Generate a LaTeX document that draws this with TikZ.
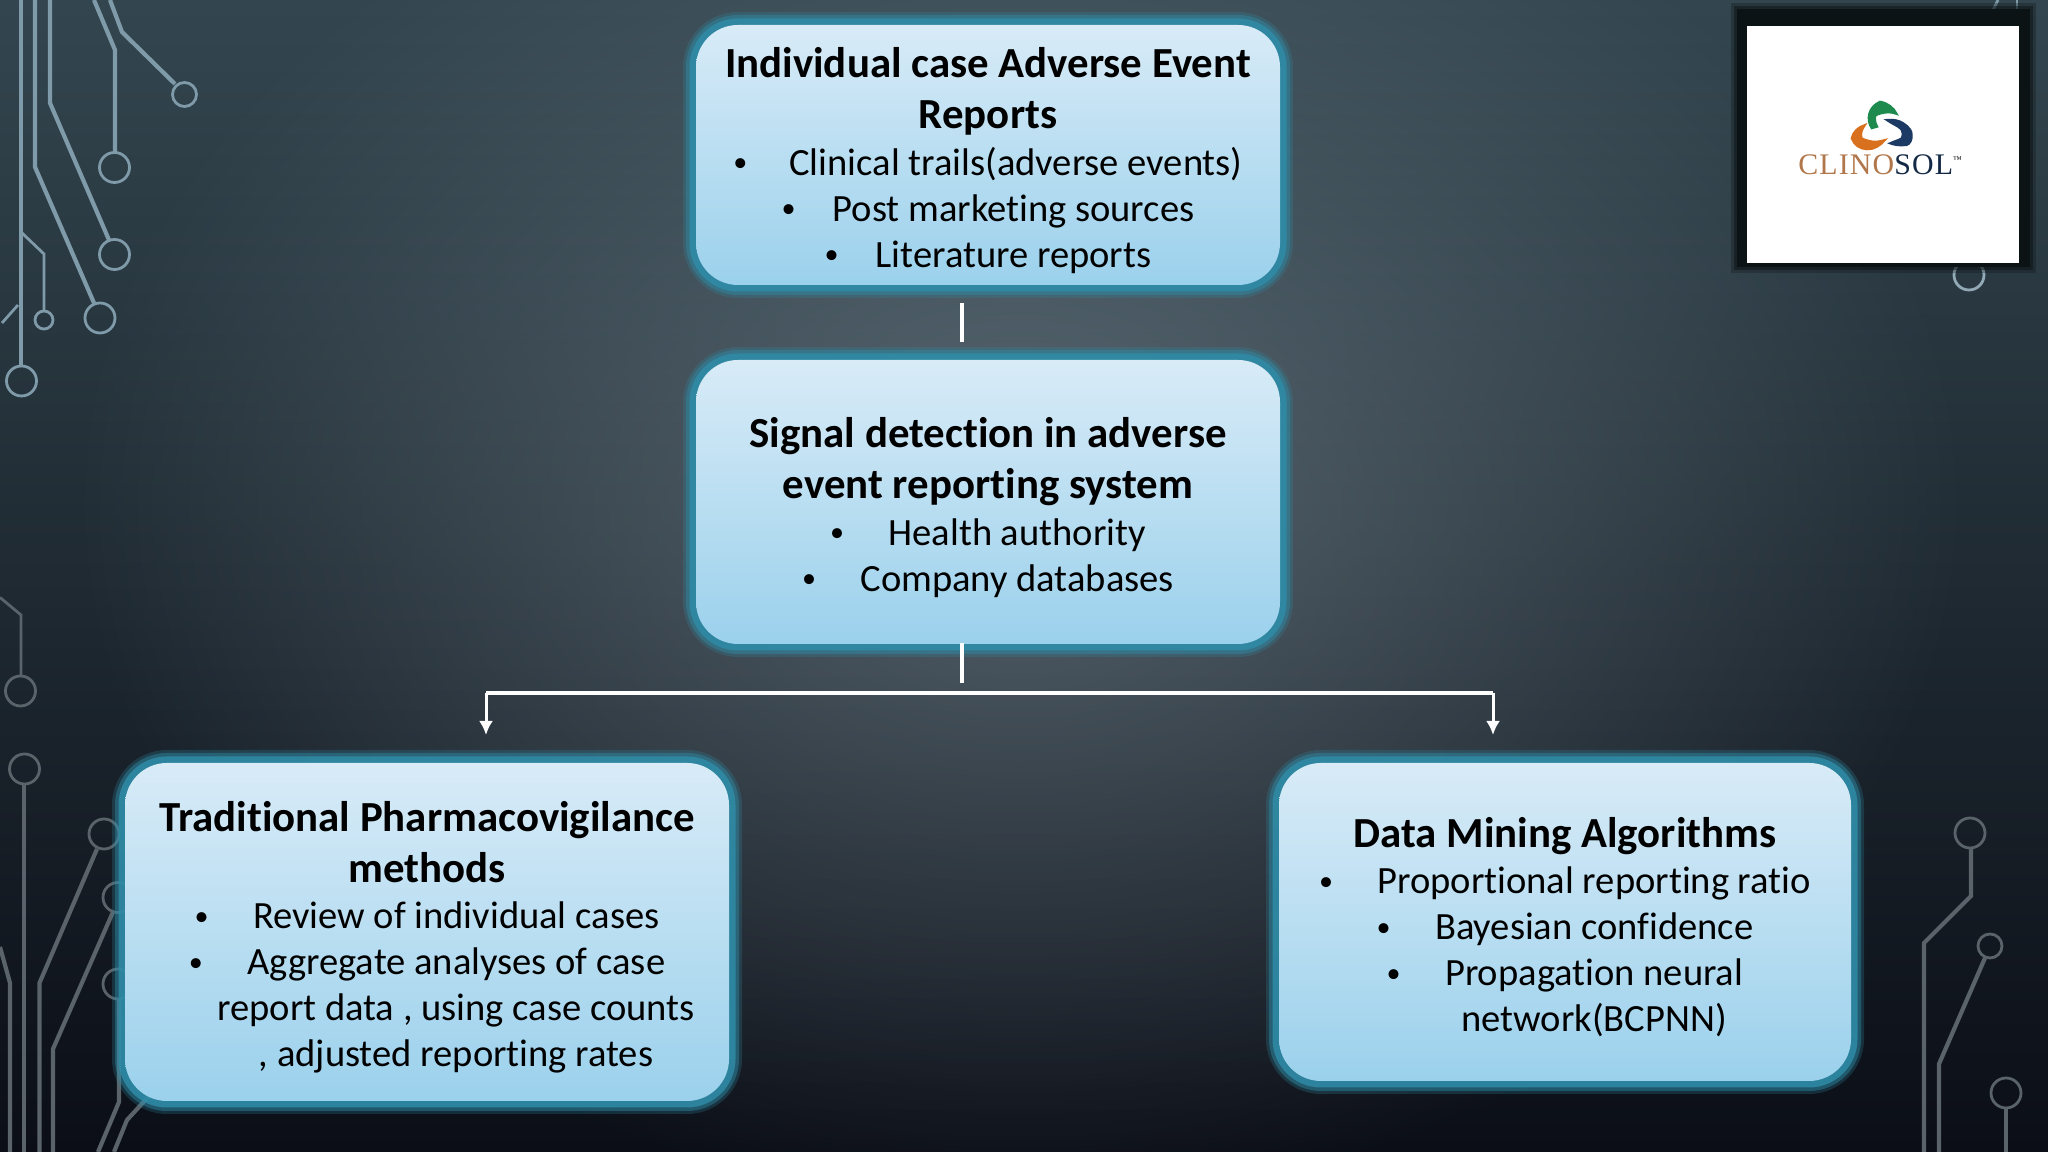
\documentclass[tikz,border=0pt]{standalone}
\usepackage{fontspec}
\setmainfont{Carlito}[Ligatures=NoCommon]
\newfontfamily\logofont[LetterSpace=4]{Liberation Serif}
\usetikzlibrary{arrows.meta,fadings}
\definecolor{slidetop}{HTML}{33464F}
\definecolor{slidebot}{HTML}{0B0E16}
\definecolor{slideglowcol}{HTML}{8A9AA5}
\definecolor{glowteal}{HTML}{2F8BA6}
\definecolor{boxtop}{HTML}{D8EBF7}
\definecolor{boxbot}{HTML}{9BD1EC}
\definecolor{tracetop}{HTML}{7F9AA9}
\definecolor{tracelow}{HTML}{596369}
\definecolor{frameblack}{HTML}{0C1315}
\definecolor{logogreen}{HTML}{1E8A4E}
\definecolor{logonavy}{HTML}{1C3A63}
\definecolor{logoorange}{HTML}{D9701E}
\tikzfading[name=slideglow, inner color=transparent!50, outer color=transparent!100]
\tikzset{
  glowbox/.style={rounded corners=0.42cm, top color=boxtop, bottom color=boxbot, text=black,
    inner sep=0pt, align=center, font=\fontsize{10.97}{13.1}\selectfont,
    preaction={draw=glowteal, line width=0.26cm, opacity=0.25},
    preaction={draw=glowteal, line width=0.20cm, opacity=0.45},
    preaction={draw=glowteal, line width=0.13cm, opacity=0.85}},
  framebox/.style={fill=frameblack,
    preaction={draw=frameblack, line width=0.12cm, opacity=0.3},
    preaction={draw=frameblack, line width=0.06cm, opacity=0.5}},
  link/.style={draw=white, line width=0.04cm},
  drop/.style={draw=white, line width=0.03cm, -{Latex[length=0.14cm,width=0.14cm]}},
  trace/.style={line width=0.042cm},
  pad/.style={line width=0.028cm},
  swoosh/.style={fill=#1, draw=#1, line width=0.02cm},
}
\newcommand{\headline}[1]{{\fontsize{12.2}{14.5}\selectfont\bfseries #1}}
\newcommand{\tophead}[1]{\headline{\rule{0pt}{11.6pt}#1}}
\newcommand{\bulletline}[2]{{\fontsize{8}{8}\selectfont\raisebox{0.25ex}{\textbullet}}\hspace{#1}#2}
\begin{document}
\begin{tikzpicture}[x=1cm,y=1cm]
    \useasboundingbox (0,0) rectangle (20.48,11.52);
    % background
    \shade[top color=slidetop, bottom color=slidebot] (0,0) rectangle (20.48,11.52);
    \fill[slideglowcol, path fading=slideglow] (10.2,6.5) ellipse (9.5cm and 7cm);
    % traces top left
    \begin{scope}[draw=tracetop]
        \draw[trace] (0.21,11.52) -- (0.21,7.86);
        \draw[pad] (0.215,7.71) circle (0.15);
        \draw[trace] (0.35,11.52) -- (0.35,9.85) -- (0.94,8.49);
        \draw[pad] (1.00,8.34) circle (0.15);
        \draw[trace] (0.50,11.52) -- (0.50,10.49) -- (1.09,9.12);
        \draw[pad] (1.145,8.975) circle (0.15);
        \draw[trace] (0.94,11.52) -- (1.15,11.02) -- (1.15,9.99);
        \draw[pad] (1.145,9.845) circle (0.15);
        \draw[trace] (1.10,11.52) -- (1.22,11.20) -- (1.75,10.68);
        \draw[pad] (1.845,10.575) circle (0.12);
        \draw[pad] (0.22,9.19) -- (0.44,8.98) -- (0.44,8.41);
        \draw[pad] (0.44,8.32) circle (0.09);
        \draw[pad] (0.18,8.47) -- (0.02,8.29);
    \end{scope}
    % traces bottom left
    \begin{scope}[draw=tracelow]
        \draw[pad] (0,5.545) -- (0.21,5.37) -- (0.21,4.75);
        \draw[pad] (0.205,4.61) circle (0.15);
        \draw[pad] (0.245,3.83) circle (0.15);
        \draw[trace] (0.24,3.68) -- (0.24,0);
        \draw[pad] (1.04,3.18) circle (0.15);
        \draw[trace] (0.97,3.03) -- (0.395,1.69) -- (0.395,0);
        \draw[pad] (1.18,2.545) circle (0.15);
        \draw[trace] (1.13,2.40) -- (0.53,1.03) -- (0.53,0);
        \draw[pad] (1.18,1.68) circle (0.15);
        \draw[trace] (1.19,1.53) -- (1.19,0.50) -- (0.98,0);
        \draw[trace] (1.50,0.57) -- (1.27,0.32) -- (1.14,0);
        \draw[trace] (0,2.05) -- (0.10,1.69) -- (0.10,0);
    \end{scope}
    % traces bottom right
    \begin{scope}[draw=tracelow]
        \draw[pad] (19.70,3.19) circle (0.15);
        \draw[trace] (19.71,3.04) -- (19.71,2.56) -- (19.24,2.09) -- (19.24,0);
        \draw[pad] (19.90,2.06) circle (0.12);
        \draw[trace] (19.85,1.94) -- (19.39,0.88) -- (19.39,0);
        \draw[pad] (20.06,0.59) circle (0.15);
        \draw[trace] (20.06,0.44) -- (20.06,0);
    \end{scope}
    % traces top right
    \draw[pad, draw=tracetop] (19.85,11.26) -- (19.98,11.52);
    \draw[pad, draw=tracetop] (20.17,11.26) -- (20.17,11.52);
    \draw[pad, draw=tracetop!85!white] (19.69,8.77) circle (0.15);
    % logo
    \node[framebox, minimum width=2.93cm, minimum height=2.58cm, inner sep=0pt] (frame) at (18.835,10.14) {};
    \node[fill=white, minimum width=2.72cm, minimum height=2.37cm, inner sep=0pt] (logo) at (18.83,10.075) {};
    \node[font=\logofont\fontsize{8.5}{9}\selectfont, inner sep=0pt, anchor=base] (logotext) at (18.80,9.77)
        {\textcolor{logoorange!55!gray}{CLINO}\textcolor{logonavy!70!black}{SOL}\raisebox{0.9ex}{\fontsize{2.5}{3}\selectfont ™}};
    \path[swoosh=logogreen] (18.717,10.237) .. controls (18.66,10.32) and (18.68,10.45) .. (18.80,10.503) .. controls (18.88,10.49) and (18.94,10.44) .. (18.967,10.38) .. controls (18.92,10.40) and (18.86,10.40) .. (18.817,10.387) .. controls (18.77,10.38) and (18.74,10.36) .. (18.75,10.337) .. controls (18.75,10.30) and (18.76,10.27) .. (18.773,10.253) -- cycle;
    \path[swoosh=logonavy] (18.867,10.32) .. controls (18.94,10.33) and (19.00,10.31) .. (19.033,10.287) .. controls (19.09,10.25) and (19.12,10.21) .. (19.117,10.17) .. controls (19.12,10.12) and (19.10,10.08) .. (19.067,10.07) .. controls (19.00,10.06) and (18.94,10.07) .. (18.90,10.087) .. controls (18.95,10.11) and (18.99,10.12) .. (19.017,10.137) .. controls (19.03,10.17) and (19.03,10.20) .. (19.017,10.22) .. controls (18.99,10.25) and (18.97,10.26) .. (18.95,10.27) .. controls (18.92,10.29) and (18.89,10.30) .. (18.867,10.32) -- cycle;
    \path[swoosh=logoorange] (18.65,10.27) .. controls (18.58,10.25) and (18.53,10.20) .. (18.517,10.137) .. controls (18.54,10.07) and (18.60,10.03) .. (18.667,10.027) .. controls (18.74,10.02) and (18.81,10.07) .. (18.85,10.12) .. controls (18.81,10.11) and (18.77,10.10) .. (18.733,10.103) .. controls (18.69,10.11) and (18.65,10.12) .. (18.617,10.137) .. controls (18.60,10.18) and (18.62,10.23) .. (18.65,10.27) -- cycle;
    % boxes
    \node[glowbox, minimum width=5.84cm, minimum height=2.60cm] (reports) at (9.88,9.97)
        {\tophead{Individual case Adverse Event}\\[1.5pt] \headline{Reports}\\[0.1pt]
         \bulletline{0.42cm}{Clinical trails(adverse events)}\\
         \bulletline{0.37cm}{Post marketing sources}\\
         \bulletline{0.37cm}{Literature reports}};
    \node[glowbox, minimum width=5.84cm, minimum height=2.84cm] (signal) at (9.88,6.50)
        {\tophead{Signal detection in adverse}\\[1.5pt] \headline{event reporting system}\\[0.1pt]
         \bulletline{0.445cm}{Health authority}\\
         \bulletline{0.445cm}{Company databases}};
    \node[glowbox, minimum width=6.04cm, minimum height=3.38cm] (traditional) at (4.27,2.20)
        {\tophead{Traditional Pharmacovigilance}\\[1.5pt] \headline{methods}\\[0.1pt]
         \bulletline{0.445cm}{Review of individual cases}\\
         \bulletline{0.445cm}{Aggregate analyses of case}\\
         \hspace{0.58cm}report data , using case counts\\
         \hspace{0.58cm}, adjusted reporting rates};
    \node[glowbox, minimum width=5.72cm, minimum height=3.18cm] (mining) at (15.65,2.30)
        {\tophead{Data Mining Algorithms}\\[0.1pt]
         \bulletline{0.445cm}{Proportional reporting ratio}\\
         \bulletline{0.445cm}{Bayesian confidence}\\
         \bulletline{0.445cm}{Propagation neural}\\
         \hspace{0.58cm}network(BCPNN)};
    % connectors
    \coordinate (topa) at (9.62,8.49);
    \coordinate (topb) at (9.62,8.10);
    \coordinate (mida) at (9.62,5.09);
    \coordinate (midb) at (9.62,4.69);
    \coordinate (leftend) at (4.86,4.59);
    \coordinate (rightend) at (14.93,4.59);
    \coordinate (leftdrop) at (4.86,4.17);
    \coordinate (rightdrop) at (14.93,4.17);
    \draw[link] (topa) -- (topb);
    \draw[link] (mida) -- (midb);
    \draw[link] (leftend) -- (rightend);
    \draw[drop] (leftend) -- (leftdrop);
    \draw[drop] (rightend) -- (rightdrop);
\end{tikzpicture}
\end{document}
